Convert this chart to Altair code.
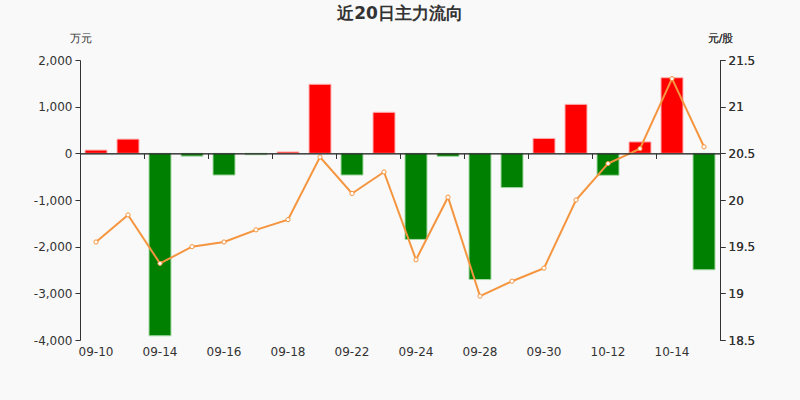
import altair as alt
import pandas as pd

dates = ["09-10", "09-11", "09-14", "09-15", "09-16", "09-17", "09-18", "09-21", "09-22", "09-23",
         "09-24", "09-25", "09-28", "09-29", "09-30", "10-09", "10-12", "10-13", "10-14", "10-15"]
flows = [70, 305, -3910, -60, -465, -30, 30, 1480, -465, 880,
         -1845, -65, -2705, -735, 320, 1050, -470, 245, 1620, -2495]
prices = [19.55, 19.84, 19.32, 19.50, 19.55, 19.68, 19.79, 20.46, 20.07, 20.30,
          19.36, 20.03, 18.97, 19.13, 19.27, 20.00, 20.39, 20.55, 21.30, 20.57]
label_dates = dates[::2]
left_ticks = [-4000, -3000, -2000, -1000, 0, 1000, 2000]
right_ticks = [18.5, 19, 19.5, 20, 20.5, 21, 21.5]

df = pd.DataFrame({"date": dates, "flow": flows, "price": prices})
df["sign"] = ["pos" if v >= 0 else "neg" for v in flows]

FONT = "DejaVu Sans"
TXT = "#333333"

xscale = alt.Scale(domain=dates, paddingInner=0.3125, paddingOuter=0.15625)

bars = alt.Chart(df).mark_bar(strokeWidth=1).encode(
    x=alt.X("date:N", sort=None, scale=xscale,
            axis=alt.Axis(orient="bottom", values=label_dates, title=None, ticks=False,
                          tickSize=0, domain=False, labelPadding=6, labelAngle=0,
                          labelFontSize=12, labelColor=TXT, labelFont=FONT)),
    y=alt.Y("flow:Q", scale=alt.Scale(domain=[-4000, 2000], nice=False, zero=False),
            axis=alt.Axis(orient="left", values=left_ticks,
                          labelExpr="(datum.value < 0 ? '-' : '') + format(abs(datum.value), ',.0f')",
                          title="万元",
                          titleAngle=0, titleX=0, titleY=-22, titleAlign="center",
                          titleBaseline="middle", titleFontSize=11, titleFontWeight="normal",
                          titleColor=TXT, titleFont=FONT, grid=False, domainColor=TXT,
                          tickColor=TXT, tickSize=5, labelPadding=3, labelFontSize=12,
                          labelColor=TXT, labelFont=FONT)),
    fill=alt.Fill("sign:N", scale=alt.Scale(domain=["pos", "neg"], range=["#ff0000", "#008000"]),
                  legend=None),
    stroke=alt.Stroke("sign:N", scale=alt.Scale(domain=["pos", "neg"], range=["#ffb3b3", "#a6d9a6"]),
                      legend=None),
)

line_base = alt.Chart(df).encode(
    x=alt.X("date:N", sort=None, scale=xscale,
            axis=alt.Axis(orient="bottom", values=label_dates, title=None, labels=False,
                          ticks=True, tickSize=5, tickOffset=-16, tickColor=TXT, domain=True,
                          domainColor=TXT, offset=-186.667, zindex=1)),
    y=alt.Y("price:Q", scale=alt.Scale(domain=[18.5, 21.5], nice=False, zero=False),
            axis=alt.Axis(orient="right", values=right_ticks, format="~g", title="元/股",
                          titleAngle=0, titleX=0, titleY=-22, titleAlign="center",
                          titleBaseline="middle", titleFontSize=11, titleFontWeight="normal",
                          titleColor=TXT, titleFont=FONT, grid=False, domainColor=TXT,
                          tickColor=TXT, tickSize=5, labelPadding=3, labelFontSize=12,
                          labelColor=TXT, labelFont=FONT)),
)
line = line_base.mark_line(color="#f5953f", strokeWidth=2)
pts = line_base.mark_point(filled=True, fill="white", stroke="#f5953f", strokeWidth=1,
                           size=18, opacity=1)

chart = alt.layer(bars, line, pts).resolve_scale(y="independent").resolve_axis(
    x="independent"
).properties(
    width=640, height=280,
    title=alt.TitleParams("近20日主力流向", fontSize=17, font=FONT, color=TXT,
                          fontWeight="bold", anchor="middle", offset=9),
    autosize=alt.AutoSizeParams(type="none"),
    padding={"left": 80, "top": 60, "right": 80, "bottom": 60},
    background="#f9f9f9",
).configure_view(stroke=None)

chart.save("out.html", embed_options={"renderer": "svg", "actions": False})
